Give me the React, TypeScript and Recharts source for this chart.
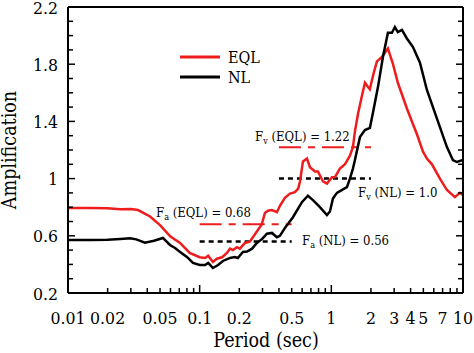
import React from 'react';
import { LineChart, Line, XAxis, YAxis, ReferenceLine } from 'recharts';

// ---- data ----
const eqlPeriod = [0.01, 0.015, 0.02, 0.025, 0.03, 0.034, 0.042, 0.05, 0.06, 0.071, 0.084, 0.1, 0.11, 0.116, 0.126, 0.135, 0.148, 0.161, 0.17, 0.179, 0.192, 0.202, 0.221, 0.241, 0.272, 0.296, 0.313, 0.33, 0.354, 0.386, 0.407, 0.444, 0.485, 0.529, 0.56, 0.578, 0.609, 0.653, 0.688, 0.751, 0.791, 0.864, 0.926, 1.011, 1.065, 1.162, 1.269, 1.384, 1.459, 1.511, 1.592, 1.708, 1.8, 1.9, 1.96, 2.0, 2.1, 2.22, 2.42, 2.69, 2.8, 2.94, 3.2, 3.75, 4.17, 4.47, 4.96, 5.32, 5.81, 6.68, 7.55, 8.68, 9.47, 10];
const eqlAmp = [0.795, 0.795, 0.793, 0.786, 0.787, 0.78, 0.735, 0.675, 0.594, 0.55, 0.48, 0.45, 0.445, 0.46, 0.417, 0.44, 0.45, 0.48, 0.51, 0.5, 0.52, 0.51, 0.55, 0.56, 0.63, 0.68, 0.76, 0.775, 0.78, 0.765, 0.81, 0.865, 0.895, 0.905, 0.93, 0.98, 1.12, 1.14, 1.08, 1.05, 1.05, 0.98, 0.965, 1.01, 1.01, 1.07, 1.1, 1.16, 1.22, 1.33, 1.45, 1.58, 1.67, 1.64, 1.625, 1.66, 1.74, 1.82, 1.85, 1.91, 1.86, 1.8, 1.67, 1.49, 1.38, 1.31, 1.19, 1.14, 1.1, 1.0, 0.92, 0.87, 0.9, 0.885];

const nlPeriod = [0.01, 0.015, 0.02, 0.025, 0.0296, 0.033, 0.0384, 0.045, 0.0526, 0.0595, 0.065, 0.071, 0.08, 0.089, 0.1, 0.11, 0.116, 0.126, 0.138, 0.15, 0.17, 0.185, 0.195, 0.213, 0.229, 0.25, 0.272, 0.3, 0.324, 0.354, 0.386, 0.407, 0.444, 0.511, 0.598, 0.664, 0.725, 0.819, 0.926, 0.976, 1.028, 1.103, 1.225, 1.314, 1.384, 1.459, 1.511, 1.649, 1.8, 1.964, 2.07, 2.26, 2.465, 2.69, 2.885, 3.04, 3.2, 3.437, 3.75, 4.17, 4.71, 5.32, 5.91, 6.68, 7.55, 8.38, 8.99, 10];
const nlAmp = [0.571, 0.57, 0.572, 0.578, 0.583, 0.575, 0.552, 0.565, 0.585, 0.536, 0.515, 0.487, 0.452, 0.41, 0.396, 0.396, 0.41, 0.375, 0.396, 0.424, 0.445, 0.452, 0.445, 0.487, 0.49, 0.51, 0.55, 0.58, 0.615, 0.62, 0.59, 0.6, 0.655, 0.73, 0.835, 0.88, 0.85, 0.8, 0.745, 0.77, 0.86, 0.9, 0.925, 0.94, 1.0, 1.07, 1.13, 1.29, 1.34, 1.355, 1.46, 1.64, 1.85, 2.02, 2.02, 2.06, 2.025, 2.04, 1.98, 1.92, 1.81, 1.62, 1.5, 1.36, 1.22, 1.13, 1.116, 1.13];

// design-code reference values
const refNames = ['Fa (EQL)', 'Fa (NL)', 'Fv (EQL)', 'Fv (NL)'];
const refFrom = [0.1, 0.1, 0.4, 0.4];
const refTo = [0.5, 0.5, 2, 2];
const refValue = [0.68, 0.56, 1.22, 1.0];
const refSeries = ['EQL', 'NL', 'EQL', 'NL'];

const xTicks = [0.01, 0.02, 0.03, 0.04, 0.05, 0.06, 0.07, 0.08, 0.09, 0.1, 0.2, 0.3, 0.4, 0.5, 0.6, 0.7, 0.8, 0.9, 1, 2, 3, 4, 5, 6, 7, 8, 9, 10];
const xLabelTicks = [0.01, 0.02, 0.05, 0.1, 0.2, 0.5, 1, 2, 3, 4, 5, 7, 10];
const xDecades = [0.01, 0.1, 1, 10];
const yTicks = [0.2, 0.3, 0.4, 0.5, 0.6, 0.7, 0.8, 0.9, 1, 1.1, 1.2, 1.3, 1.4, 1.5, 1.6, 1.7, 1.8, 1.9, 2, 2.1, 2.2];
const yLabelTicks = [0.2, 0.6, 1, 1.4, 1.8, 2.2];

const eqlData = eqlPeriod.map((p, i) => ({ period: p, amp: eqlAmp[i] }));
const nlData = nlPeriod.map((p, i) => ({ period: p, amp: nlAmp[i] }));

const W = 474;
const H = 353;
const FONT = "'DejaVu Serif Condensed', 'DejaVu Serif', serif";
const RED = '#ee1c1c';
const txt = (size: number): React.CSSProperties => ({ fontFamily: FONT, fontSize: size, fontStretch: 'condensed' });

const BottomTick = (props: any) => {
  const { x, y, payload } = props;
  const v = payload.value;
  const len = xDecades.includes(v) ? 8 : 5;
  return (
    <g>
      <line x1={x} x2={x} y1={y} y2={y - len} stroke="#000" strokeWidth={1.5} />
      {xLabelTicks.includes(v) && (
        <text x={x} y={y + 31} textAnchor="middle" style={txt(17.5)} fill="#000">
          {String(v)}
        </text>
      )}
    </g>
  );
};

const TopTick = (props: any) => {
  const { x, y, payload } = props;
  const v = payload.value;
  const len = xDecades.includes(v) ? 8 : 5;
  return <line x1={x} x2={x} y1={y} y2={y + len} stroke="#000" strokeWidth={1.5} />;
};

const LeftTick = (props: any) => {
  const { x, y, payload } = props;
  const v = payload.value;
  const labeled = yLabelTicks.includes(v);
  return (
    <g>
      <line x1={x} x2={x + (labeled ? 7 : 5)} y1={y} y2={y} stroke="#000" strokeWidth={1.5} />
      {labeled && (
        <text x={x - 10} y={y + 6.5} textAnchor="end" style={txt(17.5)} fill="#000">
          {String(v)}
        </text>
      )}
    </g>
  );
};

const RightTick = (props: any) => {
  const { x, y, payload } = props;
  const v = payload.value;
  const labeled = yLabelTicks.includes(v);
  return <line x1={x} x2={x - (labeled ? 7 : 5)} y1={y} y2={y} stroke="#000" strokeWidth={1.5} />;
};

const Ann = ({ x, y, sub, rest }: { x: number; y: number; sub: string; rest: string }) => (
  <text x={x} y={y} style={txt(13)} fill="#000">
    F
    <tspan style={txt(9)} dy={3}>{sub}</tspan>
    <tspan dy={-3}>{rest}</tspan>
  </text>
);

export default function App() {
  const axisLine = { stroke: '#000', strokeWidth: 2 };
  return (
    <div style={{ position: 'absolute', left: 0, top: 0, width: W, height: H, background: '#fff' }}>
      <LineChart width={W} height={H} margin={{ top: 6, right: 10, bottom: 20, left: 8 }}>
        <XAxis
          xAxisId="b"
          dataKey="period"
          type="number"
          scale="log"
          domain={[0.01, 10]}
          allowDataOverflow
          ticks={xTicks}
          interval={0}
          tick={(p: any) => <BottomTick {...p} />}
          tickLine={false}
          tickSize={0}
          tickMargin={0}
          axisLine={axisLine}
          height={40}
        />
        <XAxis
          xAxisId="t"
          orientation="top"
          type="number"
          scale="log"
          domain={[0.01, 10]}
          allowDataOverflow
          ticks={xTicks}
          interval={0}
          tick={(p: any) => <TopTick {...p} />}
          tickLine={false}
          tickSize={0}
          tickMargin={0}
          axisLine={axisLine}
          height={1}
        />
        <YAxis
          yAxisId="l"
          type="number"
          domain={[0.2, 2.2]}
          allowDataOverflow
          ticks={yTicks}
          interval={0}
          tick={(p: any) => <LeftTick {...p} />}
          tickLine={false}
          tickSize={0}
          tickMargin={0}
          axisLine={axisLine}
          width={60}
        />
        <YAxis
          yAxisId="r"
          orientation="right"
          type="number"
          domain={[0.2, 2.2]}
          allowDataOverflow
          ticks={yTicks}
          interval={0}
          tick={(p: any) => <RightTick {...p} />}
          tickLine={false}
          tickSize={0}
          tickMargin={0}
          axisLine={axisLine}
          width={1}
        />
        {refNames.map((n, i) => (
          <ReferenceLine
            key={n}
            xAxisId="b"
            yAxisId="l"
            segment={[
              { x: refFrom[i], y: refValue[i] },
              { x: refTo[i], y: refValue[i] },
            ]}
            stroke={refSeries[i] === 'EQL' ? RED : '#000'}
            strokeWidth={refSeries[i] === 'EQL' ? 2 : 2.5}
            strokeDasharray={refSeries[i] === 'EQL' ? '22 7 7 7' : '5 4'}
          />
        ))}
        <Line
          xAxisId="b"
          yAxisId="l"
          data={eqlData}
          dataKey="amp"
          type="linear"
          stroke={RED}
          strokeWidth={2.5}
          dot={false}
          isAnimationActive={false}
        />
        <Line
          xAxisId="b"
          yAxisId="l"
          data={nlData}
          dataKey="amp"
          type="linear"
          stroke="#000"
          strokeWidth={2.5}
          dot={false}
          isAnimationActive={false}
        />
      </LineChart>
      <svg width={W} height={H} style={{ position: 'absolute', left: 0, top: 0, pointerEvents: 'none' }}>
        <line x1={180} x2={220} y1={57} y2={57} stroke={RED} strokeWidth={3} />
        <text x={228} y={63} style={txt(16)} fill="#000">EQL</text>
        <line x1={180} x2={220} y1={77} y2={77} stroke="#000" strokeWidth={3} />
        <text x={228} y={83} style={txt(16)} fill="#000">NL</text>
        <Ann x={156} y={217} sub="a" rest=" (EQL) = 0.68" />
        <Ann x={302} y={245} sub="a" rest=" (NL) = 0.56" />
        <Ann x={255} y={141} sub="v" rest=" (EQL) = 1.22" />
        <Ann x={358} y={197} sub="v" rest=" (NL) = 1.0" />
        <text x={266} y={347} textAnchor="middle" style={txt(19.5)} fill="#000">Period (sec)</text>
        <text x={16} y={150} textAnchor="middle" style={txt(19.5)} fill="#000" transform="rotate(-90, 16, 150)">Amplification</text>
      </svg>
    </div>
  );
}
